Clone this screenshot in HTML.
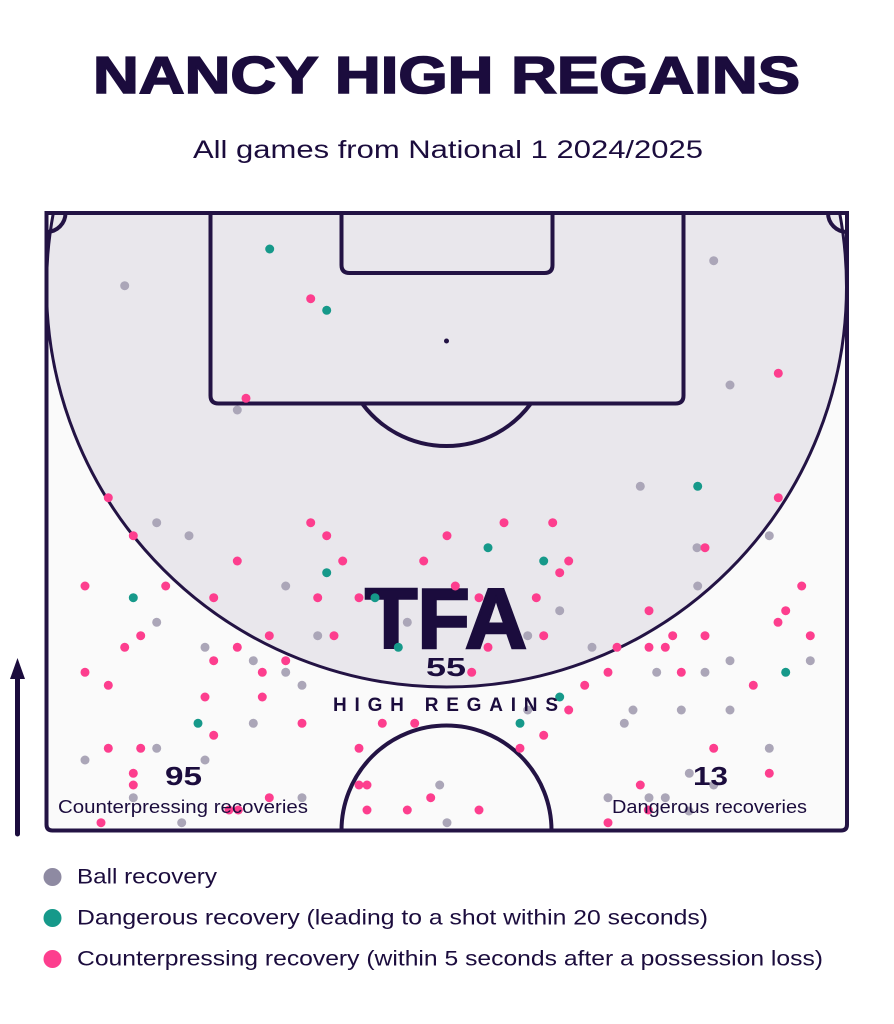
<!DOCTYPE html>
<html>
<head>
<meta charset="utf-8">
<style>
  html,body{margin:0;padding:0;background:#ffffff;}
  svg{display:block;}
  text{font-family:"Liberation Sans",sans-serif;fill:#1b0c3d;}
</style>
</head>
<body>
<svg width="894" height="1024" viewBox="0 0 894 1024" xmlns="http://www.w3.org/2000/svg">
  <defs>
    <clipPath id="pc">
      <path d="M46.5,213 H847 V824.5 Q847,830.5 841,830.5 H52.5 Q46.5,830.5 46.5,824.5 Z"/>
    </clipPath>
  </defs>

  <!-- Title -->
  <text x="93" y="93" font-size="52" font-weight="bold" textLength="707" lengthAdjust="spacingAndGlyphs" stroke="#1b0c3d" stroke-width="1.6">NANCY HIGH REGAINS</text>
  <text x="193" y="158" font-size="25" textLength="510" lengthAdjust="spacingAndGlyphs">All games from National 1 2024/2025</text>

  <!-- Pitch background -->
  <path d="M46.5,213 H847 V824.5 Q847,830.5 841,830.5 H52.5 Q46.5,830.5 46.5,824.5 Z" fill="#fafafa"/>
  <g clip-path="url(#pc)">
    <circle cx="446.5" cy="287" r="400" fill="#e9e7ec" stroke="#231344" stroke-width="3"/>
  </g>

  <!-- Pitch lines -->
  <g fill="none" stroke="#231344" stroke-width="4">
    <path d="M46.5,213 H847 V824.5 Q847,830.5 841,830.5 H52.5 Q46.5,830.5 46.5,824.5 Z"/>
    <path d="M210.5,213 V395.5 Q210.5,403.5 218.5,403.5 H675.5 Q683.5,403.5 683.5,395.5 V213"/>
    <path d="M341.5,213 V265 Q341.5,273 349.5,273 H544.5 Q552.5,273 552.5,265 V213"/>
    <path d="M362.1,403.5 A105,105 0 0,0 530.9,403.5"/>
    <path d="M341.5,830.5 A105,105 0 0,1 551.5,830.5"/>
    <path d="M65.5,213 A19,19 0 0,1 46.5,232"/>
    <path d="M828,213 A19,19 0 0,0 847,232"/>
  </g>
  <circle cx="446.5" cy="341" r="2.5" fill="#231344"/>

  <!-- TFA logo -->
  <text x="365" y="648" font-size="85" font-weight="bold" textLength="162" lengthAdjust="spacingAndGlyphs" stroke="#1b0c3d" stroke-width="2.5">TFA</text>

  <!-- Gray dots -->
  <g fill="#aba6b8">
    <circle cx="124.7" cy="285.7" r="4.5"/><circle cx="237.3" cy="410" r="4.5"/><circle cx="713.7" cy="260.7" r="4.5"/>
    <circle cx="730" cy="385" r="4.5"/><circle cx="640.3" cy="486.3" r="4.5"/><circle cx="156.7" cy="522.7" r="4.5"/>
    <circle cx="189" cy="535.7" r="4.5"/><circle cx="285.7" cy="586" r="4.5"/><circle cx="156.7" cy="622.3" r="4.5"/>
    <circle cx="407.3" cy="622.3" r="4.5"/><circle cx="317.7" cy="635.7" r="4.5"/><circle cx="205" cy="647.3" r="4.5"/>
    <circle cx="253.3" cy="660.7" r="4.5"/><circle cx="285.7" cy="672.3" r="4.5"/><circle cx="302" cy="685.3" r="4.5"/>
    <circle cx="253.3" cy="723.3" r="4.5"/><circle cx="156.7" cy="748.3" r="4.5"/><circle cx="85" cy="760" r="4.5"/>
    <circle cx="205" cy="760" r="4.5"/><circle cx="439.7" cy="785" r="4.5"/><circle cx="133.3" cy="797.7" r="4.5"/>
    <circle cx="302" cy="797.7" r="4.5"/><circle cx="181.7" cy="822.7" r="4.5"/><circle cx="447" cy="822.7" r="4.5"/>
    <circle cx="769.3" cy="535.7" r="4.5"/><circle cx="697" cy="547.7" r="4.5"/><circle cx="697.7" cy="586" r="4.5"/>
    <circle cx="559.7" cy="610.7" r="4.5"/><circle cx="527.7" cy="635.7" r="4.5"/><circle cx="592" cy="647.3" r="4.5"/>
    <circle cx="730" cy="660.7" r="4.5"/><circle cx="810.3" cy="660.7" r="4.5"/><circle cx="656.7" cy="672.3" r="4.5"/>
    <circle cx="705" cy="672.3" r="4.5"/><circle cx="527.7" cy="710" r="4.5"/><circle cx="633" cy="710" r="4.5"/>
    <circle cx="681.3" cy="710" r="4.5"/><circle cx="730" cy="710" r="4.5"/><circle cx="624.3" cy="723.3" r="4.5"/>
    <circle cx="769.3" cy="748.3" r="4.5"/><circle cx="689.3" cy="773.3" r="4.5"/><circle cx="713.7" cy="785" r="4.5"/>
    <circle cx="608" cy="797.7" r="4.5"/><circle cx="649" cy="797.7" r="4.5"/><circle cx="665.3" cy="797.7" r="4.5"/>
    <circle cx="689" cy="811" r="4.5"/>
  </g>

  <!-- Pink dots -->
  <g fill="#fd3e8e">
    <circle cx="310.7" cy="298.7" r="4.5"/><circle cx="246" cy="398.3" r="4.5"/><circle cx="108.3" cy="497.7" r="4.5"/>
    <circle cx="778.3" cy="373.3" r="4.5"/><circle cx="778.3" cy="497.7" r="4.5"/><circle cx="310.7" cy="522.7" r="4.5"/>
    <circle cx="133.3" cy="535.7" r="4.5"/><circle cx="326.7" cy="535.7" r="4.5"/><circle cx="447" cy="535.7" r="4.5"/>
    <circle cx="237.3" cy="561" r="4.5"/><circle cx="342.7" cy="561" r="4.5"/><circle cx="423.7" cy="561" r="4.5"/>
    <circle cx="85" cy="586" r="4.5"/><circle cx="165.7" cy="586" r="4.5"/><circle cx="455.3" cy="586" r="4.5"/>
    <circle cx="213.7" cy="597.7" r="4.5"/><circle cx="317.7" cy="597.7" r="4.5"/><circle cx="359" cy="597.7" r="4.5"/>
    <circle cx="140.7" cy="635.7" r="4.5"/><circle cx="269.3" cy="635.7" r="4.5"/><circle cx="334" cy="635.7" r="4.5"/>
    <circle cx="124.7" cy="647.3" r="4.5"/><circle cx="237.3" cy="647.3" r="4.5"/><circle cx="213.7" cy="660.7" r="4.5"/>
    <circle cx="285.7" cy="660.7" r="4.5"/><circle cx="85" cy="672.3" r="4.5"/><circle cx="262.3" cy="672.3" r="4.5"/>
    <circle cx="108.3" cy="685.3" r="4.5"/><circle cx="205" cy="697" r="4.5"/><circle cx="262.3" cy="697" r="4.5"/>
    <circle cx="302" cy="723.3" r="4.5"/><circle cx="382.3" cy="723.3" r="4.5"/><circle cx="414.7" cy="723.3" r="4.5"/>
    <circle cx="213.7" cy="735.3" r="4.5"/><circle cx="108.3" cy="748.3" r="4.5"/><circle cx="140.7" cy="748.3" r="4.5"/>
    <circle cx="359" cy="748.3" r="4.5"/><circle cx="133.3" cy="773.3" r="4.5"/><circle cx="133.3" cy="785" r="4.5"/>
    <circle cx="359" cy="785" r="4.5"/><circle cx="367" cy="785" r="4.5"/><circle cx="269.3" cy="797.7" r="4.5"/>
    <circle cx="430.7" cy="797.7" r="4.5"/><circle cx="229" cy="810" r="4.5"/><circle cx="238.3" cy="810" r="4.5"/>
    <circle cx="367" cy="810" r="4.5"/><circle cx="407.3" cy="810" r="4.5"/><circle cx="101" cy="822.7" r="4.5"/>
    <circle cx="504" cy="522.7" r="4.5"/><circle cx="552.7" cy="522.7" r="4.5"/><circle cx="705" cy="547.7" r="4.5"/>
    <circle cx="568.7" cy="561" r="4.5"/><circle cx="559.7" cy="572.7" r="4.5"/><circle cx="801.7" cy="586" r="4.5"/>
    <circle cx="479" cy="597.7" r="4.5"/><circle cx="536.3" cy="597.7" r="4.5"/><circle cx="649" cy="610.7" r="4.5"/>
    <circle cx="785.7" cy="610.7" r="4.5"/><circle cx="778" cy="622.3" r="4.5"/><circle cx="543.7" cy="635.7" r="4.5"/>
    <circle cx="672.7" cy="635.7" r="4.5"/><circle cx="705" cy="635.7" r="4.5"/><circle cx="810.3" cy="635.7" r="4.5"/>
    <circle cx="488" cy="647.3" r="4.5"/><circle cx="617" cy="647.3" r="4.5"/><circle cx="649" cy="647.3" r="4.5"/>
    <circle cx="665.3" cy="647.3" r="4.5"/><circle cx="471.7" cy="672.3" r="4.5"/><circle cx="608" cy="672.3" r="4.5"/>
    <circle cx="681.3" cy="672.3" r="4.5"/><circle cx="584.7" cy="685.3" r="4.5"/><circle cx="753.3" cy="685.3" r="4.5"/>
    <circle cx="568.7" cy="710" r="4.5"/><circle cx="543.7" cy="735.3" r="4.5"/><circle cx="520" cy="748.3" r="4.5"/>
    <circle cx="713.7" cy="748.3" r="4.5"/><circle cx="769.3" cy="773.3" r="4.5"/><circle cx="640.3" cy="785" r="4.5"/>
    <circle cx="479" cy="810" r="4.5"/><circle cx="648.3" cy="810" r="4.5"/><circle cx="608" cy="822.7" r="4.5"/>
  </g>

  <!-- Teal dots -->
  <g fill="#16998a">
    <circle cx="269.7" cy="249" r="4.5"/><circle cx="326.7" cy="310.3" r="4.5"/><circle cx="697.7" cy="486.3" r="4.5"/>
    <circle cx="326.7" cy="572.7" r="4.5"/><circle cx="133.3" cy="597.7" r="4.5"/><circle cx="375" cy="597.7" r="4.5"/>
    <circle cx="398.3" cy="647.3" r="4.5"/><circle cx="198" cy="723.3" r="4.5"/><circle cx="488" cy="547.7" r="4.5"/>
    <circle cx="543.7" cy="561" r="4.5"/><circle cx="785.7" cy="672.3" r="4.5"/><circle cx="559.7" cy="697" r="4.5"/>
    <circle cx="520" cy="723.3" r="4.5"/>
  </g>

  <!-- Center labels -->
  <text x="426" y="676" font-size="26" font-weight="bold" textLength="40" lengthAdjust="spacingAndGlyphs">55</text>
  <text x="333" y="711" font-size="19" font-weight="bold" textLength="225" lengthAdjust="spacing">HIGH REGAINS</text>

  <!-- Annotations -->
  <text x="165" y="785" font-size="26" font-weight="bold" textLength="37" lengthAdjust="spacingAndGlyphs">95</text>
  <text x="58" y="813" font-size="18" textLength="250" lengthAdjust="spacingAndGlyphs">Counterpressing recoveries</text>
  <text x="693" y="785" font-size="26" font-weight="bold" textLength="35" lengthAdjust="spacingAndGlyphs">13</text>
  <text x="612" y="813" font-size="18" textLength="195" lengthAdjust="spacingAndGlyphs">Dangerous recoveries</text>

  <!-- Arrow -->
  <line x1="17.5" y1="834" x2="17.5" y2="676" stroke="#1b0c3d" stroke-width="5" stroke-linecap="round"/>
  <polygon points="10,679 25,679 17.5,658" fill="#1b0c3d"/>

  <!-- Legend -->
  <circle cx="52.5" cy="877" r="9" fill="#8e8aa2"/>
  <circle cx="52.5" cy="918" r="9" fill="#16998a"/>
  <circle cx="52.5" cy="959" r="9" fill="#fd3e8e"/>
  <text x="77" y="883.5" font-size="21" textLength="140" lengthAdjust="spacingAndGlyphs">Ball recovery</text>
  <text x="77" y="924.5" font-size="21" textLength="631" lengthAdjust="spacingAndGlyphs">Dangerous recovery (leading to a shot within 20 seconds)</text>
  <text x="77" y="965.5" font-size="21" textLength="746" lengthAdjust="spacingAndGlyphs">Counterpressing recovery (within 5 seconds after a possession loss)</text>
</svg>
</body>
</html>
